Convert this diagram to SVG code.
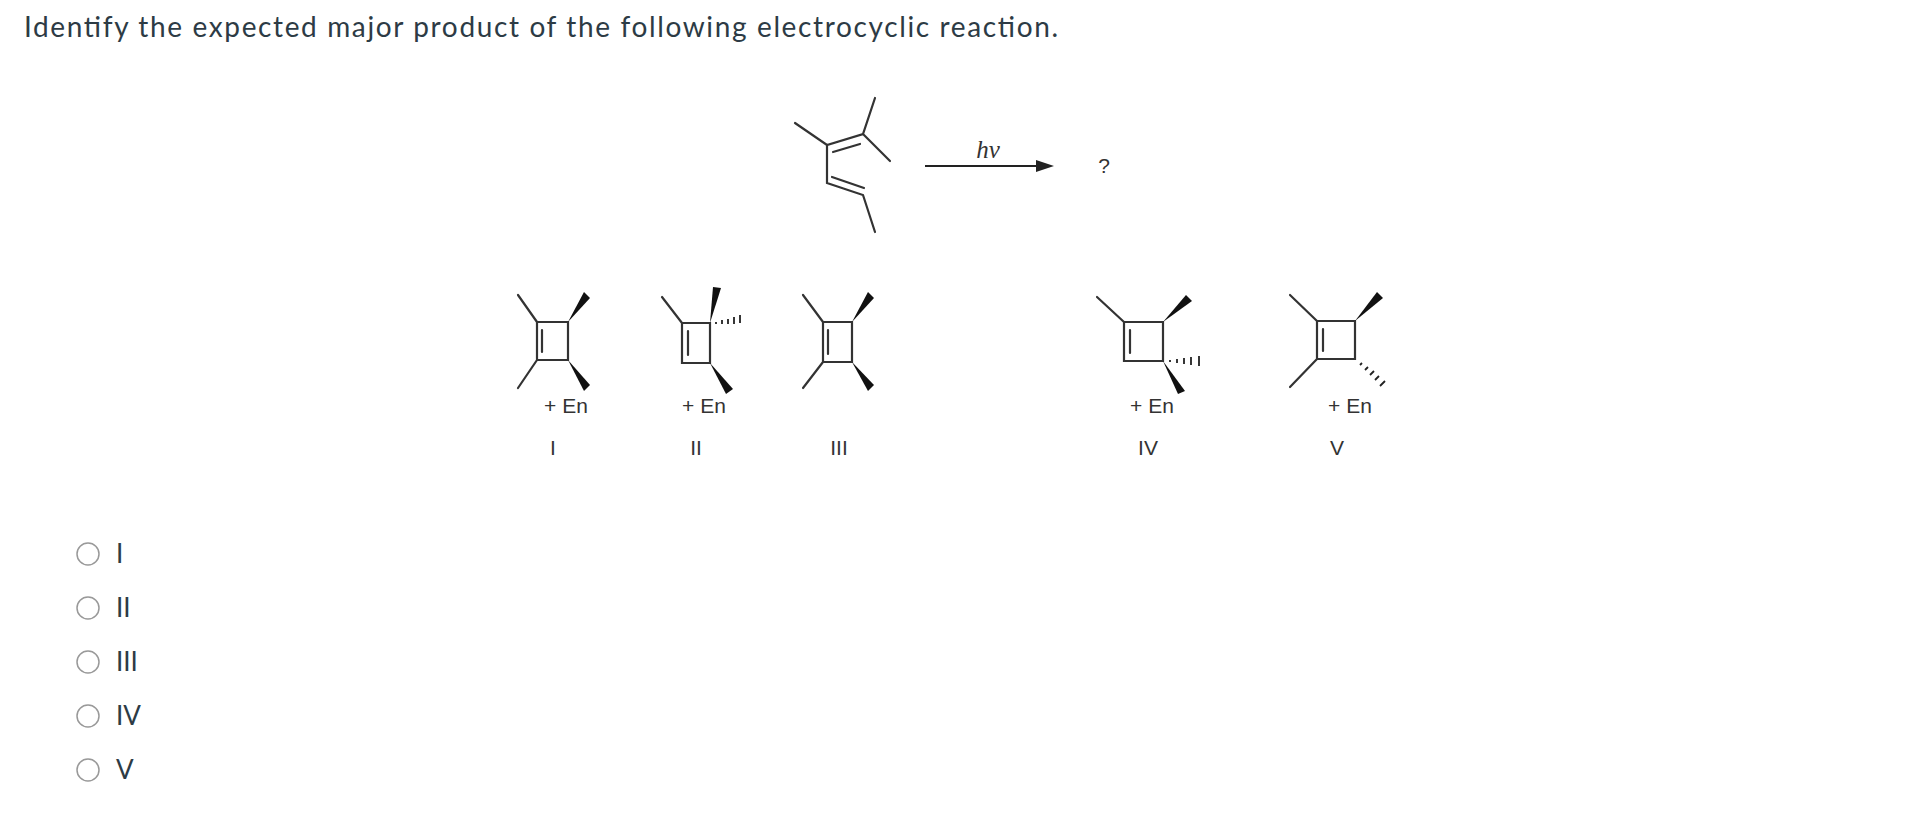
<svg xmlns="http://www.w3.org/2000/svg" width="1916" height="833" viewBox="0 0 1916 833">
<style>
.b{stroke:#333;stroke-width:2.2;fill:none;stroke-linecap:round}
.w{fill:#111}
.h{stroke:#222;stroke-width:1.8}
.t{font-family:"Liberation Sans",Arial,sans-serif;font-size:21px;fill:#333}
.r{fill:#fff;stroke:#999;stroke-width:1.5}
.q{font-family:Lato,"Liberation Sans",sans-serif;font-size:26px;fill:#2d3b45}
</style>
<rect width="1916" height="833" fill="#fff"/>
<text x="24" y="37" font-family="Lato,'Liberation Sans',sans-serif" font-size="28" fill="#2d3b45" textLength="1034">Identify the expected major product of the following electrocyclic reaction.</text>
<g id="reactant">
<path class="b" d="M795,123 L827,145 L863,134 L875,98 M863,134 L890,161 M833,152 L860,144 M827,145 L827,183 L863,195 L875,232 M832,177 L864,188"/>
</g>
<g id="connectors">
<line x1="925" y1="166" x2="1040" y2="166" stroke="#222" stroke-width="2"/>
<polygon points="1054,166 1036,160 1036,172" fill="#222"/>
</g>
<text x="988" y="158" font-family="'Liberation Serif',serif" font-style="italic" font-size="25" fill="#333" text-anchor="middle">hν</text>
<text x="1104" y="173" class="t" font-size="18" text-anchor="middle">?</text>
<g id="I">
<path class="b" d="M537,322 H568 V360 H537 Z M542,330 V352 M518,295 L537,322 M518,388 L537,360"/>
<polygon class="w" points="568,322 584,292 590,298"/><polygon class="w" points="568,360 584,391 590,385"/>
<text x="566" y="413" class="t" text-anchor="middle">+  En</text><text x="553" y="455" class="t" text-anchor="middle">I</text>
</g>
<g id="II">
<path class="b" d="M682,323 H710 V363 H682 Z M688,331 V355 M662,297 L682,323"/>
<polygon class="w" points="710,323 713,287 721,288"/><polygon class="w" points="710,363 726,394 733,389"/>
<path class="h" d="M716,322 V324 M722,320 V324 M728,319 V324 M734,317 V324 M740,315 V323"/>
<text x="704" y="413" class="t" text-anchor="middle">+  En</text><text x="696" y="455" class="t" text-anchor="middle">II</text>
</g>
<g id="III">
<path class="b" d="M823,322 H852 V362 H823 Z M828,330 V354 M803,295 L823,322 M803,388 L823,362"/>
<polygon class="w" points="852,322 868,292 874,298"/><polygon class="w" points="852,362 868,391 874,385"/>
<text x="839" y="455" class="t" text-anchor="middle">III</text>
</g>
<g id="IV">
<path class="b" d="M1124,322 H1163 V361 H1124 Z M1130,330 V353 M1097,297 L1124,322"/>
<polygon class="w" points="1163,322 1186,295 1192,301"/><polygon class="w" points="1163,361 1178,394 1185,391"/>
<path class="h" d="M1170,360 V362 M1177,359 V363 M1184,358 V364 M1191,357 V365 M1199,356 V366"/>
<text x="1152" y="413" class="t" text-anchor="middle">+  En</text><text x="1148" y="455" class="t" text-anchor="middle">IV</text>
</g>
<g id="V">
<path class="b" d="M1317,321 H1355 V359 H1317 Z M1323,329 V351 M1290,295 L1317,321 M1290,387 L1317,359"/>
<polygon class="w" points="1355,321 1377,292 1383,298"/>
<path class="h" d="M1360,365 L1362,363 M1365,370 L1368,367 M1370,375 L1374,371 M1375,380 L1379,376 M1380,386 L1385,381"/>
<text x="1350" y="413" class="t" text-anchor="middle">+  En</text><text x="1337" y="455" class="t" text-anchor="middle">V</text>
</g>
<g id="options">
<circle class="r" cx="88" cy="554" r="11"/><text x="116" y="563" class="q">I</text>
<circle class="r" cx="88" cy="608" r="11"/><text x="116" y="617" class="q">II</text>
<circle class="r" cx="88" cy="662" r="11"/><text x="116" y="671" class="q">III</text>
<circle class="r" cx="88" cy="716" r="11"/><text x="116" y="725" class="q">IV</text>
<circle class="r" cx="88" cy="770" r="11"/><text x="116" y="779" class="q">V</text>
</g>
</svg>
